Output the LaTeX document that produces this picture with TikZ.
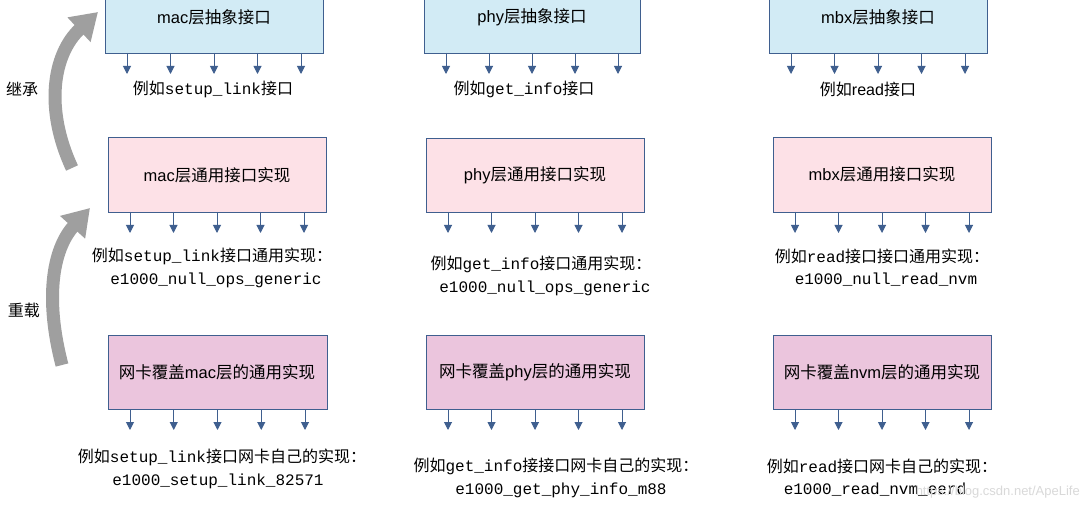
\documentclass[tikz,border=0pt]{standalone}
\usepackage{fontspec}
\setmainfont{Liberation Sans}
\newfontfamily\cjk{Noto Sans CJK SC}
\newfontfamily\mono{Liberation Mono}
\usetikzlibrary{arrows.meta}
\definecolor{bluebox}{HTML}{D2EBF5}
\definecolor{pinkbox}{HTML}{FDE1E7}
\definecolor{purplebox}{HTML}{EBC5DD}
\definecolor{edge}{HTML}{3F5F8F}
\begin{document}
\begin{tikzpicture}[x=1pt,y=-1pt,
  small/.style={edge, line width=1pt, -{Triangle[width=8pt,length=8pt]}},
  lbl/.style={font=\fontsize{16}{18}\selectfont, inner sep=0pt},
  big/.style={line width=13pt, draw=gray!75, -{Triangle[width=32pt,length=26pt]}}]
\useasboundingbox[fill=white] (0,0) rectangle (1089,510);
\newcommand{\mybox}[6]{% name,x1,y1,x2,y2,fill
  \filldraw[draw=edge,line width=0.8pt,fill=#6] (#2,#3) rectangle (#4,#5);
  \coordinate (#1) at ({(#2+#4)/2},{(#3+#5)/2});
  \foreach \i in {0,...,4}{
    \coordinate (#1s\i) at ({#2+22+\i*(#4-#2-44)/4},#5);
    \coordinate (#1e\i) at ({#2+22+\i*(#4-#2-44)/4},#5+21);
    \draw[small] (#1s\i) -- (#1e\i);}
}
\mybox{a1}{105}{-2}{323}{53}{bluebox}
\mybox{a2}{424}{-2}{640}{53}{bluebox}
\mybox{a3}{769}{-2}{987}{53}{bluebox}
\mybox{b1}{108}{137}{326}{212}{pinkbox}
\mybox{b2}{426}{138}{644}{212}{pinkbox}
\mybox{b3}{773}{137}{991}{212}{pinkbox}
\mybox{c1}{108}{335}{327}{409}{purplebox}
\mybox{c2}{426}{335}{644}{409}{purplebox}
\mybox{c3}{773}{335}{991}{409}{purplebox}
\begin{scope}[every node/.style={font=\fontsize{16.5}{18}\selectfont, inner sep=0pt}]
\node (t1) at (214,17) {mac{\cjk 层抽象接口}};
\node (t2) at (532,17) {phy{\cjk 层抽象接口}};
\node (t3) at (878,17) {mbx{\cjk 层抽象接口}};
\node (u1) at (217,175) {mac{\cjk 层通用接口实现}};
\node (u2) at (535,175) {phy{\cjk 层通用接口实现}};
\node (u3) at (882,174) {mbx{\cjk 层通用接口实现}};
\node (v1) at (217,372) {{\cjk 网卡覆盖}mac{\cjk 层的通用实现}};
\node (v2) at (535,372) {{\cjk 网卡覆盖}phy{\cjk 层的通用实现}};
\node (v3) at (882,372) {{\cjk 网卡覆盖}nvm{\cjk 层的通用实现}};
\end{scope}
\node[lbl] (l1) at (213,89) {{\cjk 例如}{\mono setup\_link}{\cjk 接口}};
\node[lbl] (l2) at (524,89) {{\cjk 例如}{\mono get\_info}{\cjk 接口}};
\node[lbl] (l3) at (868,89) {{\cjk 例如}read{\cjk 接口}};
\node[lbl] (m1) at (212,256) {{\cjk 例如}{\mono setup\_link}{\cjk 接口通用实现：}};
\node[lbl] (n1) at (216,280) {\mono e1000\_null\_ops\_generic};
\node[lbl] (m2) at (541,264) {{\cjk 例如}{\mono get\_info}{\cjk 接口通用实现：}};
\node[lbl] (n2) at (545,288) {\mono e1000\_null\_ops\_generic};
\node[lbl] (m3) at (882,256) {{\cjk 例如}{\mono read}{\cjk 接口接口通用实现：}};
\node[lbl] (n3) at (886,280) {\mono e1000\_null\_read\_nvm};
\node[lbl] (o1) at (222,457) {{\cjk 例如}{\mono setup\_link}{\cjk 接口网卡自己的实现：}};
\node[lbl] (p1) at (218,481) {\mono e1000\_setup\_link\_82571};
\node[lbl] (o2) at (556,466) {{\cjk 例如}{\mono get\_info}{\cjk 接接口网卡自己的实现：}};
\node[lbl] (p2) at (561,490) {\mono e1000\_get\_phy\_info\_m88};
\node[lbl] (o3) at (882,466) {{\cjk 例如}{\mono read}{\cjk 接口网卡自己的实现：}};
\node[lbl] (p3) at (875,490) {\mono e1000\_read\_nvm\_eerd};
\node[font=\fontsize{13}{15}\selectfont, text=gray!30, inner sep=0pt, anchor=east] (wm) at (1080,492) {https://blog.csdn.net/ApeLife};
\node[lbl] (k1) at (22,89) {\cjk 继承};
\node[lbl] (k2) at (24,310) {\cjk 重载};
\coordinate (g1s) at (72,168);
\coordinate (g1e) at (98,12);
\coordinate (g2s) at (62,365);
\coordinate (g2e) at (90,208);
\draw[big] (g1s) .. controls (45,110) and (52,55) .. (g1e);
\draw[big] (g2s) .. controls (45,300) and (52,250) .. (g2e);
\end{tikzpicture}
\end{document}
